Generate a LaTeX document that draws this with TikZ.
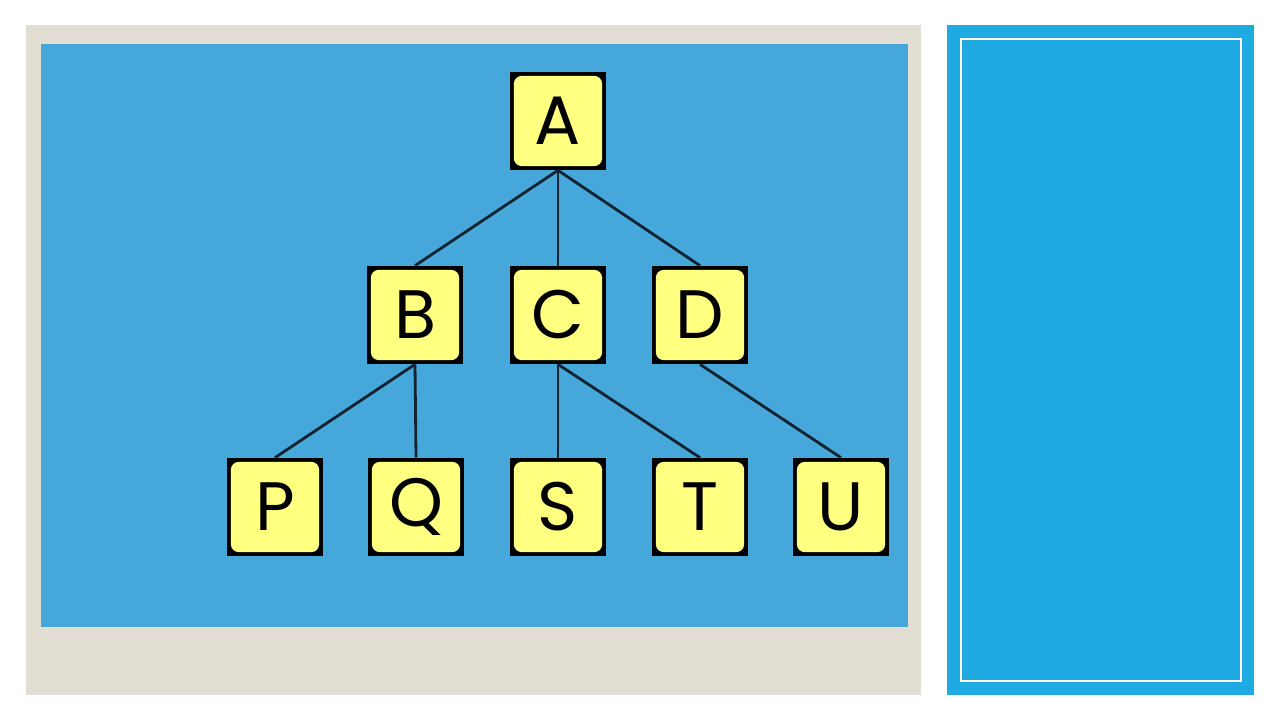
\documentclass[tikz,border=0pt]{standalone}
\usepackage{fontspec}
\setmainfont{Poppins}
\usetikzlibrary{calc}
\definecolor{pagebeige}{RGB}{227,222,211}
\definecolor{dotblue}{RGB}{70,168,218}
\definecolor{sideblue}{RGB}{31,171,225}
\definecolor{boxyellow}{RGB}{255,255,128}
\definecolor{edgedark}{RGB}{20,35,50}

\tikzset{
  letterbox/.style={fill=black, minimum width=1.92cm, minimum height=1.96cm,
    inner sep=0pt, font=\fontsize{39}{39}\selectfont,
    path picture={\fill[boxyellow,rounded corners=4.5pt]
      ($(path picture bounding box.south west)+(2.2pt,2.2pt)$) rectangle
      ($(path picture bounding box.north east)-(2.2pt,2.2pt)$);}},
  treeedge/.style={draw=edgedark, line width=1.6pt}
}

\begin{document}
\begin{tikzpicture}[x=0.02cm,y=-0.02cm]
\useasboundingbox (0,0) rectangle (1280,720);
\fill[white] (0,0) rectangle (1280,720);

% left panel and picture
\fill[pagebeige] (26,25) rectangle (921,695);
\fill[dotblue] (41,44) rectangle (908,627);

% right panel
\fill[sideblue] (947,25) rectangle (1254,695);
\draw[white, line width=0.6pt] (961,39) rectangle (1241,681);

% the tree
\node[letterbox] (a) at (558,121) {A};

\node[letterbox] (b) at (415,315) {B};
\node[letterbox] (c) at (558,315) {C};
\node[letterbox] (d) at (700,315) {D};

\node[letterbox] (p) at (275,507) {P};
\node[letterbox] (q) at (416,507) {Q};
\node[letterbox] (s) at (558,507) {S};
\node[letterbox] (t) at (700,507) {T};
\node[letterbox] (u) at (841,507) {U};

\draw[treeedge] (a.south) -- (b.north);
\draw[treeedge] (a.south) -- (c.north);
\draw[treeedge] (a.south) -- (d.north);
\draw[treeedge] (b.south) -- (p.north);
\draw[treeedge] (b.south) -- (q.north);
\draw[treeedge] (c.south) -- (s.north);
\draw[treeedge] (c.south) -- (t.north);
\draw[treeedge] (d.south) -- (u.north);

\end{tikzpicture}
\end{document}
